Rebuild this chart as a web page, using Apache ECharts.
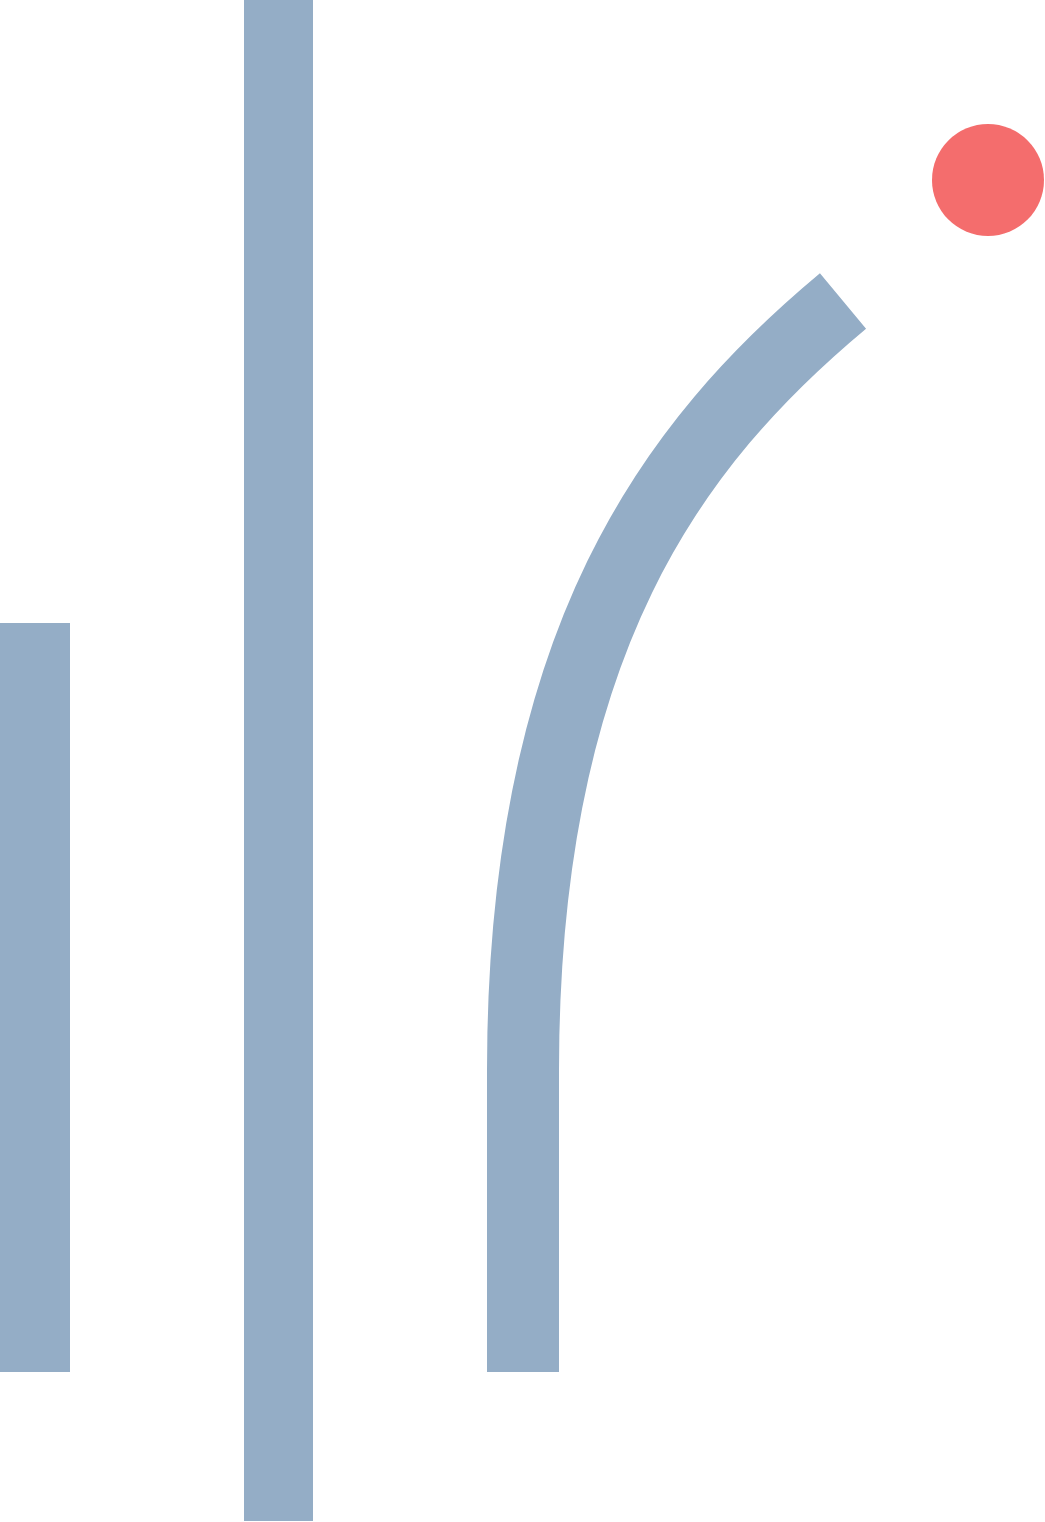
<!DOCTYPE html>
<html>
<head>
<meta charset="utf-8">
<script src="https://cdn.jsdelivr.net/npm/echarts@6/dist/echarts.min.js"></script>
<style>
  html, body { margin: 0; padding: 0; background: #fff; }
  #main { width: 1045px; height: 1522px; }
</style>
</head>
<body>
<div id="main"></div>
<script>
// straight bars (x from / to, y from / to, y grows downwards)
var barLeft = [0, 244]
var barRight = [70, 313]
var barTop = [623, 0]
var barBottom = [1372, 1521]

// bent stroke: foot, start of bend, two bezier handles, tip
var curveX = [523, 523, 523, 674, 843]
var curveY = [1372, 1070, 640, 442, 301]

// the dot
var dotX = [988]
var dotY = [180]

var blue = '#94adc6'
var red = '#f46d6d'

var bars = []
for (var i = 0; i < barLeft.length; i++) {
	bars.push([barLeft[i], barRight[i], barTop[i], barBottom[i]])
}
var curve = [[].concat.apply([], curveX.map(function(x, i) { return [x, curveY[i]] }))]
var dots = dotX.map(function(x, i) { return [x, dotY[i]] })

var chart = echarts.init(document.getElementById('main'))
chart.setOption({
	animation: false,
	grid: { left: 0, right: 0, top: 0, bottom: 0 },
	xAxis: { type: 'value', min: 0, max: 1045, show: false },
	yAxis: { type: 'value', min: 0, max: 1522, inverse: true, show: false },
	series: [{
		type: 'custom',
		data: bars,
		renderItem: function(params, api) {
			var p0 = api.coord([api.value(0), api.value(2)])
			var p1 = api.coord([api.value(1), api.value(3)])
			return {
				type: 'rect',
				shape: { x: p0[0], y: p0[1], width: p1[0] - p0[0], height: p1[1] - p0[1] },
				style: { fill: blue }
			}
		}
	}, {
		// straight foot, then one cubic bend up to the tip
		type: 'custom',
		data: curve,
		renderItem: function(params, api) {
			var p = []
			for (var k = 0; k < 5; k++) {
				p.push(api.coord([api.value(k * 2), api.value(k * 2 + 1)]))
			}
			var d = 'M' + p[0][0] + ',' + p[0][1] +
				' L' + p[1][0] + ',' + p[1][1] +
				' C' + p[2][0] + ',' + p[2][1] + ' ' + p[3][0] + ',' + p[3][1] + ' ' + p[4][0] + ',' + p[4][1]
			return {
				type: 'path',
				shape: { pathData: d },
				style: { fill: 'none', stroke: blue, lineWidth: 72, lineCap: 'butt', lineJoin: 'round' }
			}
		}
	}, {
		type: 'scatter',
		data: dots,
		symbol: 'circle',
		symbolSize: 112,
		itemStyle: { color: red, opacity: 1 }
	}]
})
</script>
</body>
</html>
